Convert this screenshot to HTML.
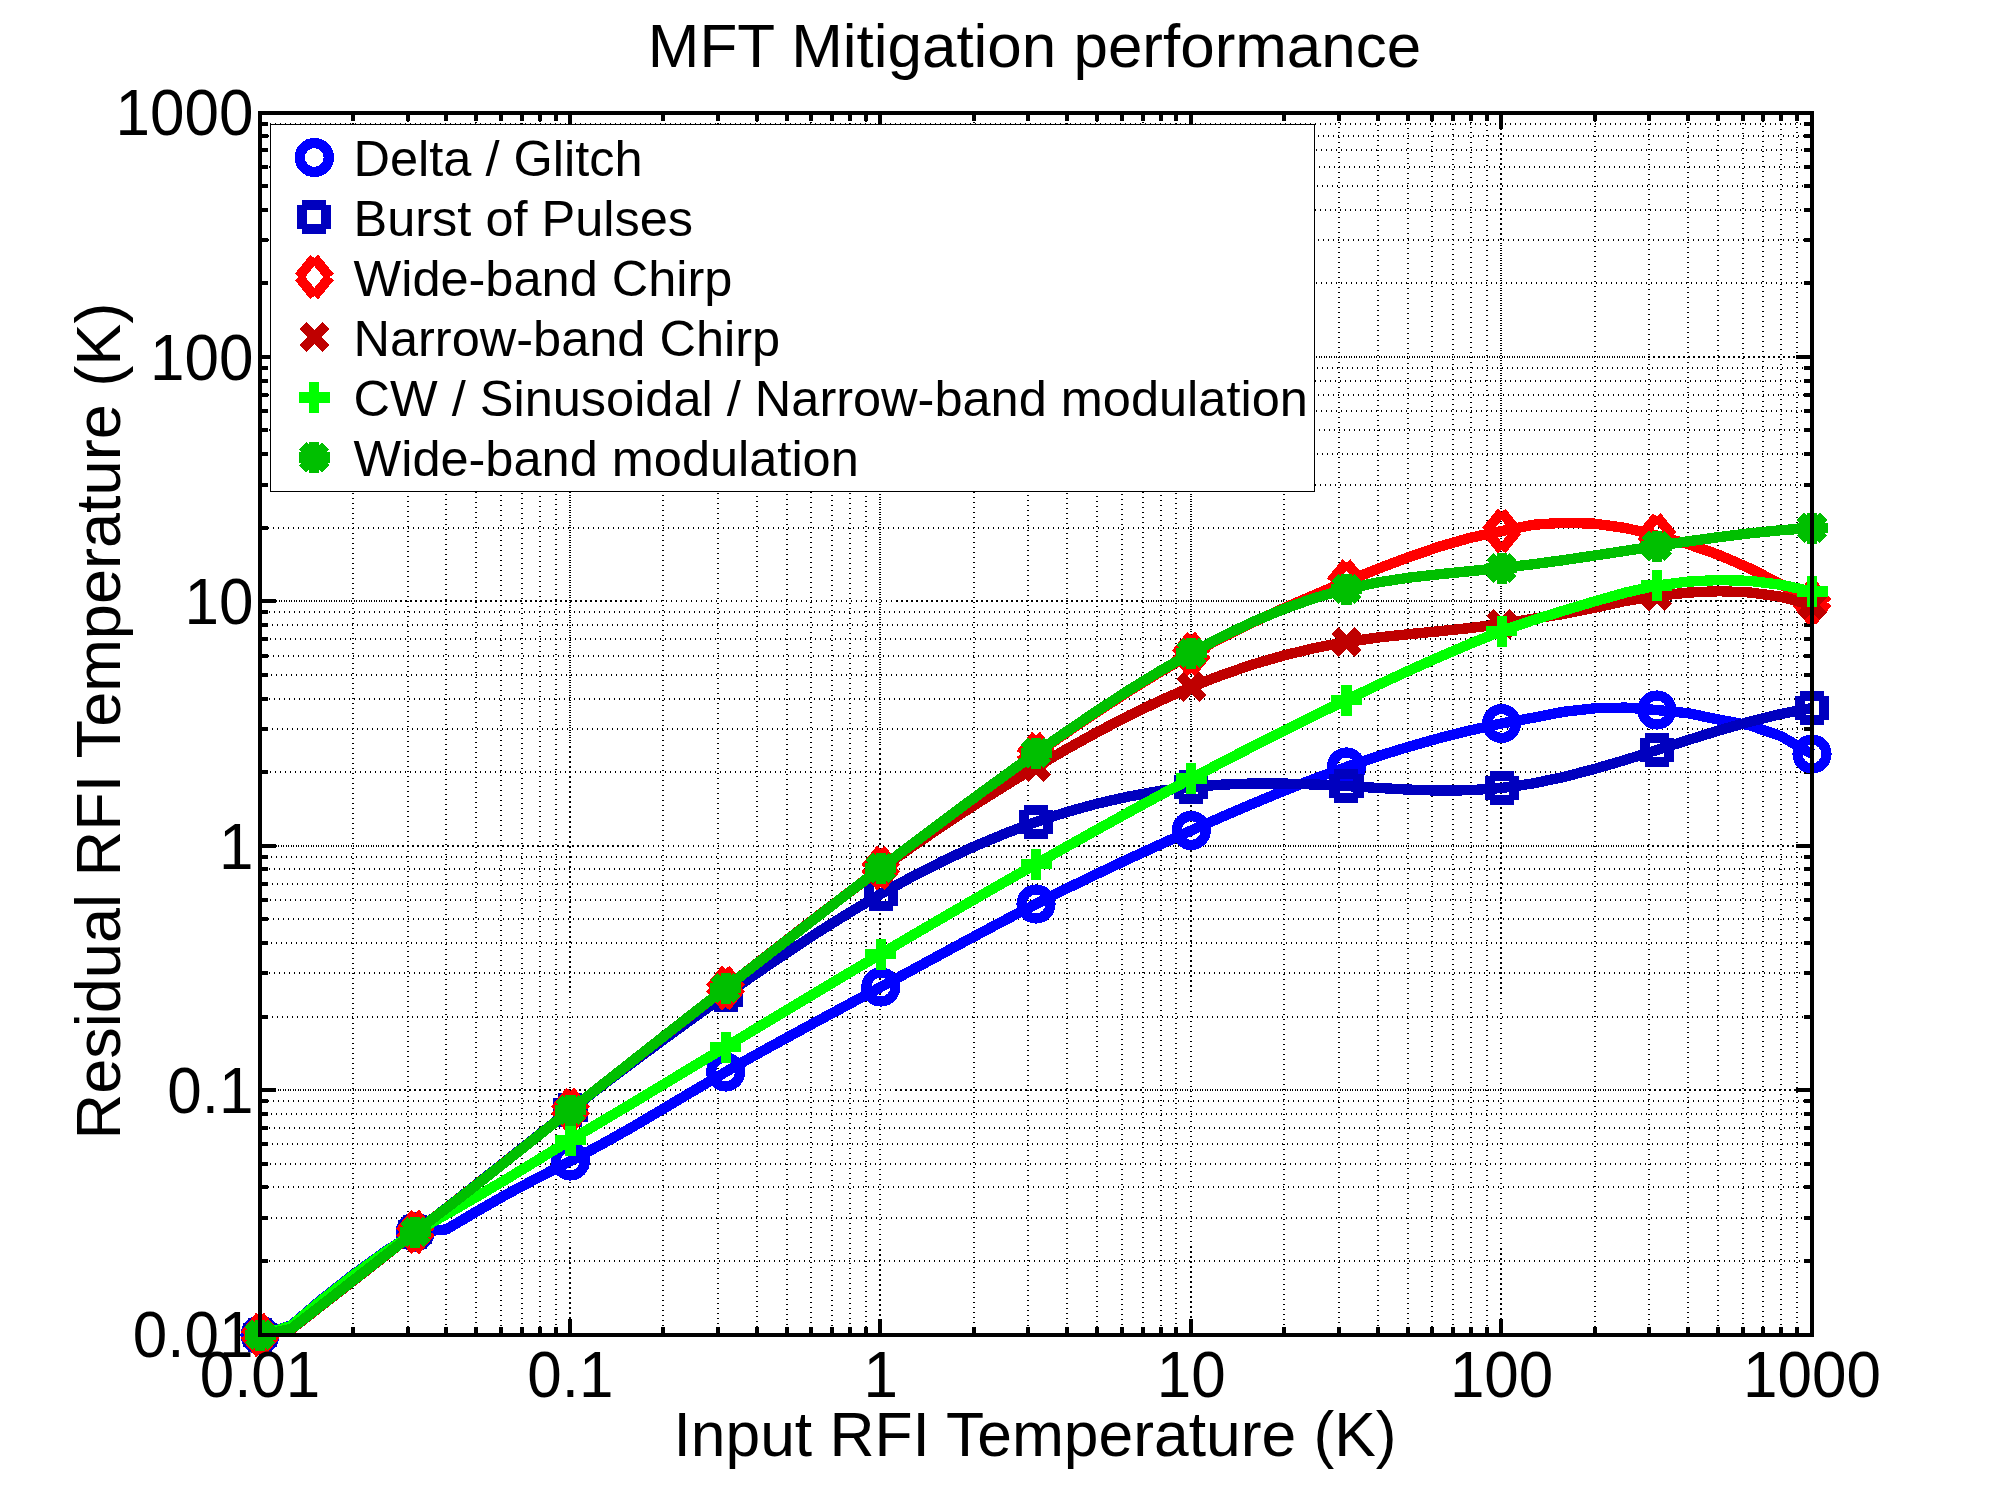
<!DOCTYPE html>
<html lang="en"><head><meta charset="utf-8"><title>MFT Mitigation performance</title>
<style>html,body{margin:0;padding:0;background:#fff}body{width:2002px;height:1500px;overflow:hidden}svg text{white-space:pre}</style>
</head><body>
<svg width="2002" height="1500" viewBox="0 0 2002 1500" style="display:block">
<rect width="2002" height="1500" fill="#fff"/>
<g shape-rendering="crispEdges" stroke="#000" stroke-width="2" fill="none">
<path d="M353 118V1333M408 116V1333M446 119V1333M476 117V1333M501 115V1333M522 118V1333M540 116V1333M556 119V1333M570 117V1333M663 115V1333M718 118V1333M757 116V1333M787 119V1333M811 117V1333M832 115V1333M850 118V1333M866 116V1333M880 119V1333M974 117V1333M1028 115V1333M1067 118V1333M1097 116V1333M1122 119V1333M1143 117V1333M1161 115V1333M1176 118V1333M1191 116V1333M1284 119V1333M1339 117V1333M1378 115V1333M1408 118V1333M1432 116V1333M1453 119V1333M1471 117V1333M1487 115V1333M1501 118V1333M1595 116V1333M1649 119V1333M1688 117V1333M1718 115V1333M1743 118V1333M1763 116V1333M1781 119V1333M1797 117V1333M264 1261H1810M266 1218H1810M263 1187H1810M265 1164H1810M262 1144H1810M264 1128H1810M266 1114H1810M263 1101H1810M265 1090H1810M262 1017H1810M264 973H1810M266 943H1810M263 919H1810M265 900H1810M262 884H1810M264 869H1810M266 857H1810M263 846H1810M265 772H1810M262 729H1810M264 699H1810M266 675H1810M263 656H1810M265 639H1810M262 625H1810M264 612H1810M266 601H1810M263 528H1810M265 485H1810M262 454H1810M264 430H1810M266 411H1810M263 395H1810M265 381H1810M262 368H1810M264 357H1810M266 283H1810M263 240H1810M265 210H1810M262 186H1810M264 167H1810M266 150H1810M263 136H1810M265 124H1810" stroke-dasharray="1 4"/>
<path d="M570 118V1333M880 120V1333M1191 117V1333M1501 119V1333M268 1090H1810M266 846H1810M269 601H1810M267 357H1810" stroke-dasharray="1 4.02"/>
</g>
<g shape-rendering="crispEdges" stroke="#000" stroke-width="4" fill="none">
<path d="M353 1335v-8M353 113v8M408 1335v-8M408 113v8M446 1335v-8M446 113v8M476 1335v-8M476 113v8M501 1335v-8M501 113v8M522 1335v-8M522 113v8M540 1335v-8M540 113v8M556 1335v-8M556 113v8M570 1335v-16M570 113v16M663 1335v-8M663 113v8M718 1335v-8M718 113v8M757 1335v-8M757 113v8M787 1335v-8M787 113v8M811 1335v-8M811 113v8M832 1335v-8M832 113v8M850 1335v-8M850 113v8M866 1335v-8M866 113v8M880 1335v-16M880 113v16M974 1335v-8M974 113v8M1028 1335v-8M1028 113v8M1067 1335v-8M1067 113v8M1097 1335v-8M1097 113v8M1122 1335v-8M1122 113v8M1143 1335v-8M1143 113v8M1161 1335v-8M1161 113v8M1176 1335v-8M1176 113v8M1191 1335v-16M1191 113v16M1284 1335v-8M1284 113v8M1339 1335v-8M1339 113v8M1378 1335v-8M1378 113v8M1408 1335v-8M1408 113v8M1432 1335v-8M1432 113v8M1453 1335v-8M1453 113v8M1471 1335v-8M1471 113v8M1487 1335v-8M1487 113v8M1501 1335v-16M1501 113v16M1595 1335v-8M1595 113v8M1649 1335v-8M1649 113v8M1688 1335v-8M1688 113v8M1718 1335v-8M1718 113v8M1743 1335v-8M1743 113v8M1763 1335v-8M1763 113v8M1781 1335v-8M1781 113v8M1797 1335v-8M1797 113v8M260 1261h8M1812 1261h-8M260 1218h8M1812 1218h-8M260 1187h8M1812 1187h-8M260 1164h8M1812 1164h-8M260 1144h8M1812 1144h-8M260 1128h8M1812 1128h-8M260 1114h8M1812 1114h-8M260 1101h8M1812 1101h-8M260 1090h16M1812 1090h-16M260 1017h8M1812 1017h-8M260 973h8M1812 973h-8M260 943h8M1812 943h-8M260 919h8M1812 919h-8M260 900h8M1812 900h-8M260 884h8M1812 884h-8M260 869h8M1812 869h-8M260 857h8M1812 857h-8M260 846h16M1812 846h-16M260 772h8M1812 772h-8M260 729h8M1812 729h-8M260 699h8M1812 699h-8M260 675h8M1812 675h-8M260 656h8M1812 656h-8M260 639h8M1812 639h-8M260 625h8M1812 625h-8M260 612h8M1812 612h-8M260 601h16M1812 601h-16M260 528h8M1812 528h-8M260 485h8M1812 485h-8M260 454h8M1812 454h-8M260 430h8M1812 430h-8M260 411h8M1812 411h-8M260 395h8M1812 395h-8M260 381h8M1812 381h-8M260 368h8M1812 368h-8M260 357h16M1812 357h-16M260 283h8M1812 283h-8M260 240h8M1812 240h-8M260 210h8M1812 210h-8M260 186h8M1812 186h-8M260 167h8M1812 167h-8M260 150h8M1812 150h-8M260 136h8M1812 136h-8M260 124h8M1812 124h-8"/>
</g>
<g shape-rendering="crispEdges" fill="none" stroke-linejoin="round">
<path d="M260.5 1335.0L291.0 1325.5L322.1 1299.0L353.1 1274.7L384.2 1252.2L415.2 1232.0L446.2 1229.5L477.3 1211.1L508.3 1193.5L539.4 1177.0L570.4 1161.0L601.4 1144.5L632.5 1127.0L663.5 1108.7L694.6 1090.2L725.6 1072.0L756.6 1054.3L787.7 1037.2L818.7 1020.4L849.8 1003.7L880.8 987.0L911.8 970.2L942.9 953.3L973.9 936.6L1005.0 920.1L1036.0 904.0L1067.0 888.4L1098.1 873.4L1129.1 858.7L1160.2 844.5L1191.2 830.5L1222.2 816.8L1253.3 803.5L1284.3 790.6L1315.4 778.4L1346.4 767.0L1377.4 756.4L1408.5 746.8L1439.5 738.1L1470.6 730.3L1501.6 723.5L1532.6 717.8L1563.7 711.8L1594.7 708.3L1625.8 707.6L1656.8 710.0L1687.8 713.2L1718.9 719.6L1749.9 725.4L1781.0 736.2L1812.0 754.0" stroke="#0000ff" stroke-width="10.4"/>
<g stroke-width="10.2">
<circle cx="260.0" cy="1335.0" r="14.5" stroke="#0000ff"/>
<circle cx="415.2" cy="1232.0" r="14.5" stroke="#0000ff"/>
<circle cx="570.4" cy="1161.0" r="14.5" stroke="#0000ff"/>
<circle cx="725.6" cy="1072.0" r="14.5" stroke="#0000ff"/>
<circle cx="880.8" cy="987.0" r="14.5" stroke="#0000ff"/>
<circle cx="1036.0" cy="904.0" r="14.5" stroke="#0000ff"/>
<circle cx="1191.2" cy="830.5" r="14.5" stroke="#0000ff"/>
<circle cx="1346.4" cy="767.0" r="14.5" stroke="#0000ff"/>
<circle cx="1501.6" cy="723.5" r="14.5" stroke="#0000ff"/>
<circle cx="1656.8" cy="710.0" r="14.5" stroke="#0000ff"/>
<circle cx="1812.0" cy="754.0" r="14.5" stroke="#0000ff"/>
</g>
<path d="M260.5 1335.0L291.0 1329.0L322.1 1304.8L353.1 1280.5L384.2 1256.2L415.2 1232.0L446.2 1208.1L477.3 1183.7L508.3 1159.0L539.4 1134.4L570.4 1110.0L601.4 1086.1L632.5 1062.6L663.5 1039.7L694.6 1017.1L725.6 995.0L756.6 973.3L787.7 952.2L818.7 931.8L849.8 912.4L880.8 894.0L911.8 876.9L942.9 861.1L973.9 846.6L1005.0 833.6L1036.0 822.0L1067.0 811.9L1098.1 803.4L1129.1 796.4L1160.2 790.9L1191.2 787.0L1222.2 784.6L1253.3 783.5L1284.3 783.6L1315.4 784.5L1346.4 786.0L1377.4 787.9L1408.5 789.6L1439.5 790.6L1470.6 790.2L1501.6 788.0L1532.6 783.5L1563.7 777.0L1594.7 768.9L1625.8 759.8L1656.8 750.0L1687.8 740.1L1718.9 730.5L1749.9 721.6L1781.0 714.0L1812.0 708.0" stroke="#0000bf" stroke-width="10.4"/>
<g stroke-width="10.2">
<path d="M248.0 1323.0h24M272.0 1323.0v24M272.0 1347.0h-24M248.0 1347.0v-24" stroke="#0000bf"/>
<path d="M403.2 1220.0h24M427.2 1220.0v24M427.2 1244.0h-24M403.2 1244.0v-24" stroke="#0000bf"/>
<path d="M558.4 1098.0h24M582.4 1098.0v24M582.4 1122.0h-24M558.4 1122.0v-24" stroke="#0000bf"/>
<path d="M713.6 983.0h24M737.6 983.0v24M737.6 1007.0h-24M713.6 1007.0v-24" stroke="#0000bf"/>
<path d="M868.8 882.0h24M892.8 882.0v24M892.8 906.0h-24M868.8 906.0v-24" stroke="#0000bf"/>
<path d="M1024.0 810.0h24M1048.0 810.0v24M1048.0 834.0h-24M1024.0 834.0v-24" stroke="#0000bf"/>
<path d="M1179.2 775.0h24M1203.2 775.0v24M1203.2 799.0h-24M1179.2 799.0v-24" stroke="#0000bf"/>
<path d="M1334.4 774.0h24M1358.4 774.0v24M1358.4 798.0h-24M1334.4 798.0v-24" stroke="#0000bf"/>
<path d="M1489.6 776.0h24M1513.6 776.0v24M1513.6 800.0h-24M1489.6 800.0v-24" stroke="#0000bf"/>
<path d="M1644.8 738.0h24M1668.8 738.0v24M1668.8 762.0h-24M1644.8 762.0v-24" stroke="#0000bf"/>
<path d="M1800.0 696.0h24M1824.0 696.0v24M1824.0 720.0h-24M1800.0 720.0v-24" stroke="#0000bf"/>
</g>
<path d="M260.5 1335.0L291.0 1329.5L322.1 1305.2L353.1 1281.0L384.2 1256.6L415.2 1232.0L446.2 1208.4L477.3 1184.2L508.3 1159.6L539.4 1134.8L570.4 1110.0L601.4 1085.4L632.5 1060.9L663.5 1036.5L694.6 1012.2L725.6 988.0L756.6 963.8L787.7 939.6L818.7 915.6L849.8 891.7L880.8 868.0L911.8 844.6L942.9 821.4L973.9 798.6L1005.0 776.1L1036.0 754.0L1067.0 732.3L1098.1 711.3L1129.1 691.1L1160.2 671.9L1191.2 654.0L1222.2 637.5L1253.3 622.2L1284.3 608.0L1315.4 594.5L1346.4 581.5L1377.4 569.0L1408.5 557.2L1439.5 546.6L1470.6 537.7L1501.6 531.0L1532.6 524.8L1563.7 522.7L1594.7 523.7L1625.8 528.0L1656.8 535.5L1687.8 544.0L1718.9 554.9L1749.9 568.4L1781.0 584.2L1812.0 602.5" stroke="#ff0000" stroke-width="10.4"/>
<g stroke-width="10.2">
<path d="M260.0 1316.0l15.5 19M275.5 1335.0l-15.5 19M260.0 1354.0l-15.5 -19M244.5 1335.0l15.5 -19" stroke="#ff0000"/>
<path d="M415.2 1213.0l15.5 19M430.7 1232.0l-15.5 19M415.2 1251.0l-15.5 -19M399.7 1232.0l15.5 -19" stroke="#ff0000"/>
<path d="M570.4 1091.0l15.5 19M585.9 1110.0l-15.5 19M570.4 1129.0l-15.5 -19M554.9 1110.0l15.5 -19" stroke="#ff0000"/>
<path d="M725.6 969.0l15.5 19M741.1 988.0l-15.5 19M725.6 1007.0l-15.5 -19M710.1 988.0l15.5 -19" stroke="#ff0000"/>
<path d="M880.8 849.0l15.5 19M896.3 868.0l-15.5 19M880.8 887.0l-15.5 -19M865.3 868.0l15.5 -19" stroke="#ff0000"/>
<path d="M1036.0 735.0l15.5 19M1051.5 754.0l-15.5 19M1036.0 773.0l-15.5 -19M1020.5 754.0l15.5 -19" stroke="#ff0000"/>
<path d="M1191.2 635.0l15.5 19M1206.7 654.0l-15.5 19M1191.2 673.0l-15.5 -19M1175.7 654.0l15.5 -19" stroke="#ff0000"/>
<path d="M1346.4 562.5l15.5 19M1361.9 581.5l-15.5 19M1346.4 600.5l-15.5 -19M1330.9 581.5l15.5 -19" stroke="#ff0000"/>
<path d="M1501.6 512.0l15.5 19M1517.1 531.0l-15.5 19M1501.6 550.0l-15.5 -19M1486.1 531.0l15.5 -19" stroke="#ff0000"/>
<path d="M1656.8 516.5l15.5 19M1672.3 535.5l-15.5 19M1656.8 554.5l-15.5 -19M1641.3 535.5l15.5 -19" stroke="#ff0000"/>
<path d="M1812.0 583.5l15.5 19M1827.5 602.5l-15.5 19M1812.0 621.5l-15.5 -19M1796.5 602.5l15.5 -19" stroke="#ff0000"/>
</g>
<path d="M260.5 1335.0L291.0 1329.5L322.1 1305.2L353.1 1281.0L384.2 1256.6L415.2 1232.0L446.2 1208.3L477.3 1184.1L508.3 1159.5L539.4 1134.8L570.4 1110.0L601.4 1085.4L632.5 1061.0L663.5 1036.6L694.6 1012.3L725.6 988.0L756.6 963.6L787.7 939.3L818.7 915.3L849.8 891.8L880.8 869.0L911.8 847.0L942.9 825.8L973.9 805.4L1005.0 785.8L1036.0 767.0L1067.0 748.9L1098.1 731.7L1129.1 715.5L1160.2 700.6L1191.2 687.0L1222.2 674.9L1253.3 664.3L1284.3 655.3L1315.4 647.9L1346.4 642.0L1377.4 637.6L1408.5 634.2L1439.5 631.2L1470.6 628.0L1501.6 624.0L1532.6 618.9L1563.7 613.9L1594.7 607.7L1625.8 600.9L1656.8 596.0L1687.8 592.6L1718.9 591.2L1749.9 592.4L1781.0 596.8L1812.0 605.0" stroke="#bf0000" stroke-width="10.4"/>
<g stroke-width="10.2">
<path d="M248.5 1323.5l23.0 23.0M248.5 1346.5l23.0 -23.0" stroke="#bf0000"/>
<path d="M403.7 1220.5l23.0 23.0M403.7 1243.5l23.0 -23.0" stroke="#bf0000"/>
<path d="M558.9 1098.5l23.0 23.0M558.9 1121.5l23.0 -23.0" stroke="#bf0000"/>
<path d="M714.1 976.5l23.0 23.0M714.1 999.5l23.0 -23.0" stroke="#bf0000"/>
<path d="M869.3 857.5l23.0 23.0M869.3 880.5l23.0 -23.0" stroke="#bf0000"/>
<path d="M1024.5 755.5l23.0 23.0M1024.5 778.5l23.0 -23.0" stroke="#bf0000"/>
<path d="M1179.7 675.5l23.0 23.0M1179.7 698.5l23.0 -23.0" stroke="#bf0000"/>
<path d="M1334.9 630.5l23.0 23.0M1334.9 653.5l23.0 -23.0" stroke="#bf0000"/>
<path d="M1490.1 612.5l23.0 23.0M1490.1 635.5l23.0 -23.0" stroke="#bf0000"/>
<path d="M1645.3 584.5l23.0 23.0M1645.3 607.5l23.0 -23.0" stroke="#bf0000"/>
<path d="M1800.5 593.5l23.0 23.0M1800.5 616.5l23.0 -23.0" stroke="#bf0000"/>
</g>
<path d="M260.5 1335.0L291.0 1326.0L322.1 1299.8L353.1 1275.5L384.2 1252.8L415.2 1232.0L446.2 1214.4L477.3 1196.4L508.3 1178.0L539.4 1159.0L570.4 1140.0L601.4 1121.6L632.5 1103.1L663.5 1084.4L694.6 1065.7L725.6 1047.0L756.6 1028.3L787.7 1009.6L818.7 991.0L849.8 972.4L880.8 954.0L911.8 935.7L942.9 917.6L973.9 899.6L1005.0 881.7L1036.0 864.0L1067.0 846.5L1098.1 829.1L1129.1 812.0L1160.2 795.1L1191.2 778.5L1222.2 762.2L1253.3 746.2L1284.3 730.5L1315.4 715.1L1346.4 700.0L1377.4 685.2L1408.5 670.8L1439.5 656.9L1470.6 643.6L1501.6 631.0L1532.6 620.3L1563.7 610.6L1594.7 601.3L1625.8 592.5L1656.8 585.5L1687.8 581.6L1718.9 580.0L1749.9 580.9L1781.0 584.7L1812.0 591.5" stroke="#00ff00" stroke-width="10.4"/>
<g stroke-width="10.2">
<path d="M244.5 1335.0h31.0M260.0 1319.5v31.0" stroke="#00ff00"/>
<path d="M399.7 1232.0h31.0M415.2 1216.5v31.0" stroke="#00ff00"/>
<path d="M554.9 1140.0h31.0M570.4 1124.5v31.0" stroke="#00ff00"/>
<path d="M710.1 1047.0h31.0M725.6 1031.5v31.0" stroke="#00ff00"/>
<path d="M865.3 954.0h31.0M880.8 938.5v31.0" stroke="#00ff00"/>
<path d="M1020.5 864.0h31.0M1036.0 848.5v31.0" stroke="#00ff00"/>
<path d="M1175.7 778.5h31.0M1191.2 763.0v31.0" stroke="#00ff00"/>
<path d="M1330.9 700.0h31.0M1346.4 684.5v31.0" stroke="#00ff00"/>
<path d="M1486.1 631.0h31.0M1501.6 615.5v31.0" stroke="#00ff00"/>
<path d="M1641.3 585.5h31.0M1656.8 570.0v31.0" stroke="#00ff00"/>
<path d="M1796.5 591.5h31.0M1812.0 576.0v31.0" stroke="#00ff00"/>
</g>
<path d="M260.5 1335.0L291.0 1329.0L322.1 1304.8L353.1 1280.5L384.2 1256.2L415.2 1232.0L446.2 1208.4L477.3 1184.2L508.3 1159.6L539.4 1134.8L570.4 1110.0L601.4 1085.4L632.5 1060.9L663.5 1036.5L694.6 1012.2L725.6 988.0L756.6 963.8L787.7 939.7L818.7 915.7L849.8 891.8L880.8 868.0L911.8 844.4L942.9 821.0L973.9 798.0L1005.0 775.3L1036.0 753.0L1067.0 731.3L1098.1 710.2L1129.1 690.0L1160.2 670.9L1191.2 653.0L1222.2 636.6L1253.3 621.7L1284.3 608.8L1315.4 597.8L1346.4 589.0L1377.4 582.5L1408.5 577.7L1439.5 574.2L1470.6 571.1L1501.6 568.0L1532.6 564.3L1563.7 560.1L1594.7 555.5L1625.8 550.8L1656.8 546.0L1687.8 541.4L1718.9 537.1L1749.9 533.3L1781.0 530.2L1812.0 528.0" stroke="#00bf00" stroke-width="10.4"/>
<g stroke-width="10.2">
<path d="M244.5 1335.0h31.0M260.0 1319.5v31.0M248.5 1323.5l23.0 23.0M248.5 1346.5l23.0 -23.0" stroke="#00bf00"/>
<path d="M399.7 1232.0h31.0M415.2 1216.5v31.0M403.7 1220.5l23.0 23.0M403.7 1243.5l23.0 -23.0" stroke="#00bf00"/>
<path d="M554.9 1110.0h31.0M570.4 1094.5v31.0M558.9 1098.5l23.0 23.0M558.9 1121.5l23.0 -23.0" stroke="#00bf00"/>
<path d="M710.1 988.0h31.0M725.6 972.5v31.0M714.1 976.5l23.0 23.0M714.1 999.5l23.0 -23.0" stroke="#00bf00"/>
<path d="M865.3 868.0h31.0M880.8 852.5v31.0M869.3 856.5l23.0 23.0M869.3 879.5l23.0 -23.0" stroke="#00bf00"/>
<path d="M1020.5 753.0h31.0M1036.0 737.5v31.0M1024.5 741.5l23.0 23.0M1024.5 764.5l23.0 -23.0" stroke="#00bf00"/>
<path d="M1175.7 653.0h31.0M1191.2 637.5v31.0M1179.7 641.5l23.0 23.0M1179.7 664.5l23.0 -23.0" stroke="#00bf00"/>
<path d="M1330.9 589.0h31.0M1346.4 573.5v31.0M1334.9 577.5l23.0 23.0M1334.9 600.5l23.0 -23.0" stroke="#00bf00"/>
<path d="M1486.1 568.0h31.0M1501.6 552.5v31.0M1490.1 556.5l23.0 23.0M1490.1 579.5l23.0 -23.0" stroke="#00bf00"/>
<path d="M1641.3 546.0h31.0M1656.8 530.5v31.0M1645.3 534.5l23.0 23.0M1645.3 557.5l23.0 -23.0" stroke="#00bf00"/>
<path d="M1796.5 528.0h31.0M1812.0 512.5v31.0M1800.5 516.5l23.0 23.0M1800.5 539.5l23.0 -23.0" stroke="#00bf00"/>
</g>
</g>
<g shape-rendering="crispEdges" stroke="#000" stroke-width="4" fill="none">
<rect x="260" y="113" width="1552" height="1222"/>
</g>
<g shape-rendering="crispEdges"><rect x="270.5" y="124.5" width="1044" height="366.5" fill="#fff" stroke="#000" stroke-width="1"/></g>
<g shape-rendering="crispEdges" fill="none" stroke-width="10.2">
<circle cx="314.3" cy="157.5" r="14.5" stroke="#0000ff"/>
<path d="M302.3 205.0h24M326.3 205.0v24M326.3 229.0h-24M302.3 229.0v-24" stroke="#0000bf"/>
<path d="M314.3 258.0l15.5 19M329.8 277.0l-15.5 19M314.3 296.0l-15.5 -19M298.8 277.0l15.5 -19" stroke="#ff0000"/>
<path d="M302.8 325.5l23.0 23.0M302.8 348.5l23.0 -23.0" stroke="#bf0000"/>
<path d="M298.8 397.4h31.0M314.3 381.9v31.0" stroke="#00ff00"/>
<path d="M298.8 457.4h31.0M314.3 441.9v31.0M302.8 445.9l23.0 23.0M302.8 468.9l23.0 -23.0" stroke="#00bf00"/>
</g>
<g style="font-family:'Liberation Sans',Arial,Helvetica,sans-serif;font-size:50.5px" fill="#000">
<text x="353.5" y="176.0">Delta / Glitch</text>
<text x="353.5" y="235.5">Burst of Pulses</text>
<text x="353.5" y="295.5">Wide-band Chirp</text>
<text x="353.5" y="355.5">Narrow-band Chirp</text>
<text x="353.5" y="415.9">CW / Sinusoidal / Narrow-band modulation</text>
<text x="353.5" y="475.9">Wide-band modulation</text>
</g>
<g style="font-family:'Liberation Sans',Arial,Helvetica,sans-serif;font-size:62px" fill="#000">
<text x="1034.5" y="67" text-anchor="middle" style="font-size:61.95px">MFT Mitigation performance</text>
<text x="1035" y="1456" text-anchor="middle" style="font-size:62.35px">Input RFI Temperature (K)</text>
<text transform="translate(120 721) rotate(-90)" text-anchor="middle" style="font-size:63.1px">Residual RFI Temperature (K)</text>
<text transform="translate(260.0 1396.7) scale(1 1.035)" text-anchor="middle">0.01</text>
<text transform="translate(253.5 1357.3) scale(1 1.035)" text-anchor="end">0.01</text>
<text transform="translate(570.4 1396.7) scale(1 1.035)" text-anchor="middle">0.1</text>
<text transform="translate(253.5 1112.9) scale(1 1.035)" text-anchor="end">0.1</text>
<text transform="translate(880.8 1396.7) scale(1 1.035)" text-anchor="middle">1</text>
<text transform="translate(253.5 868.5) scale(1 1.035)" text-anchor="end">1</text>
<text transform="translate(1191.2 1396.7) scale(1 1.035)" text-anchor="middle">10</text>
<text transform="translate(253.5 624.1) scale(1 1.035)" text-anchor="end">10</text>
<text transform="translate(1501.6 1396.7) scale(1 1.035)" text-anchor="middle">100</text>
<text transform="translate(253.5 379.7) scale(1 1.035)" text-anchor="end">100</text>
<text transform="translate(1812.0 1396.7) scale(1 1.035)" text-anchor="middle">1000</text>
<text transform="translate(253.5 135.3) scale(1 1.035)" text-anchor="end">1000</text>
</g>
</svg>
</body></html>
